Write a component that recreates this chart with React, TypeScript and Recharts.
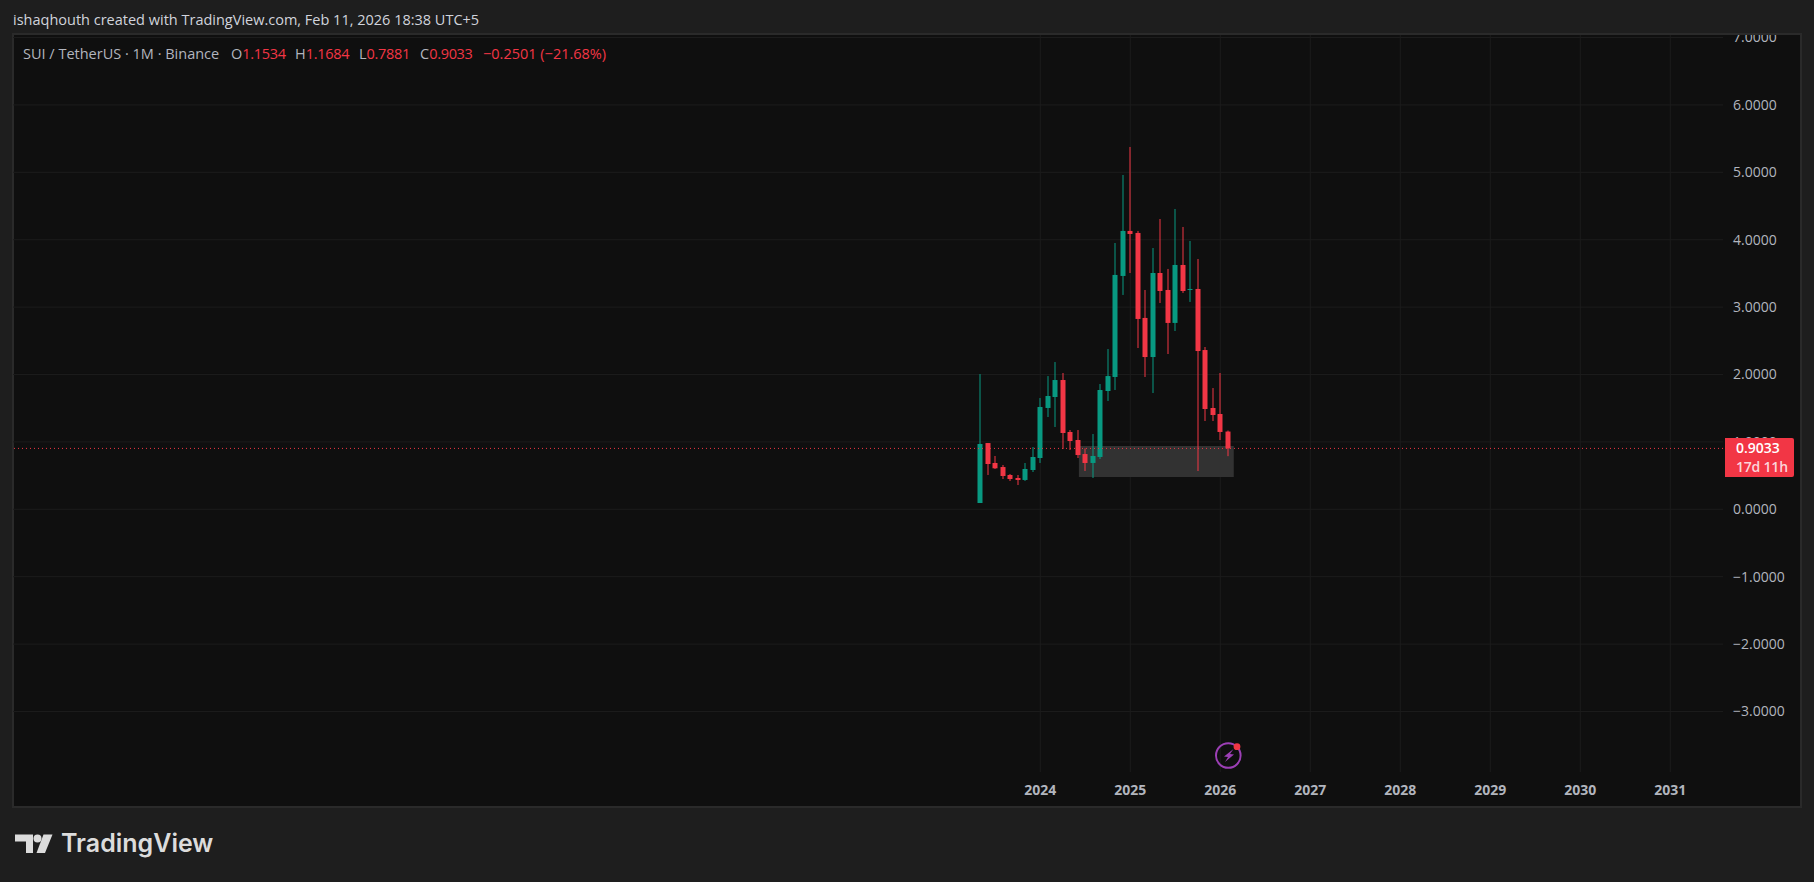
import React from "react";
import {
  ComposedChart,
  Bar,
  XAxis,
  YAxis,
  CartesianGrid,
  ReferenceLine,
  ReferenceArea,
} from "recharts";

// monthly candles, May 2023 .. Feb 2026
const months = [
  "2023-05", "2023-06", "2023-07", "2023-08", "2023-09", "2023-10", "2023-11", "2023-12",
  "2024-01", "2024-02", "2024-03", "2024-04", "2024-05", "2024-06", "2024-07", "2024-08", "2024-09", "2024-10", "2024-11", "2024-12",
  "2025-01", "2025-02", "2025-03", "2025-04", "2025-05", "2025-06", "2025-07", "2025-08", "2025-09", "2025-10", "2025-11", "2025-12",
  "2026-01", "2026-02",
];
const opens = [
  0.093, 0.983, 0.687, 0.627, 0.509, 0.464, 0.435, 0.583,
  0.761, 1.503, 1.666, 1.918, 1.147, 1.028, 0.82, 0.687, 0.776, 1.755, 1.963, 3.462,
  4.13, 4.1, 2.839, 2.259, 3.506, 3.254, 2.765, 3.625, 3.254, 3.269, 2.363, 1.503,
  1.414, 1.1534,
];
const highs = [
  2.007, 0.983, 0.791, 0.657, 0.524, 0.509, 0.687, 0.924,
  1.651, 1.977, 2.185, 2.022, 1.176, 1.176, 0.904, 1.117, 1.859, 2.378, 3.951, 4.96,
  5.376, 4.13, 3.254, 3.877, 4.307, 3.566, 4.456, 4.189, 3.981, 3.714, 2.408, 1.799,
  2.022, 1.1684,
];
const lows = [
  0.093, 0.509, 0.598, 0.449, 0.42, 0.36, 0.42, 0.553,
  0.687, 1.369, 1.221, 0.894, 0.88, 0.761, 0.568, 0.464, 0.746, 1.607, 1.77, 3.18,
  3.506, 2.393, 1.963, 1.725, 3.061, 2.304, 2.645, 3.21, 3.076, 0.568, 1.31, 1.31,
  1.028, 0.7881,
];
const closes = [
  0.969, 0.672, 0.608, 0.494, 0.449, 0.435, 0.598, 0.776,
  1.518, 1.681, 1.918, 1.132, 1.013, 0.805, 0.687, 0.791, 1.77, 1.977, 3.477, 4.13,
  4.085, 2.824, 2.259, 3.506, 3.239, 2.765, 3.625, 3.239, 3.269, 2.348, 1.488, 1.399,
  1.147, 0.9033,
];

const priceTicks = [-3, -2, -1, 0, 1, 2, 3, 4, 5, 6, 7];
const yearTicks = [8, 20, 32, 44, 56, 68, 80, 92];
const yearLabels = ["2024", "2025", "2026", "2027", "2028", "2029", "2030", "2031"];

const lastPrice = 0.9033;
const zone = { from: 13.15, to: 33.8, top: 0.94, bottom: 0.48 };

const UP = "#089981";
const DOWN = "#f23645";
const FONT = "'Open Sans', sans-serif";

const candles = months.map((m, i) => ({
  i,
  month: m,
  open: opens[i],
  high: highs[i],
  low: lows[i],
  close: closes[i],
}));

const Candle = (props: any) => {
  const { x, y, width, height, payload } = props;
  const pxPerUnit = height / (payload.high - payload.low);
  const color = payload.close >= payload.open ? UP : DOWN;
  const top = y + (payload.high - Math.max(payload.open, payload.close)) * pxPerUnit;
  const bottom = y + (payload.high - Math.min(payload.open, payload.close)) * pxPerUnit;
  const cx = Math.round(x + width / 2);
  return (
    <g>
      <rect x={cx - 0.5} y={y} width={1} height={height} fill={color} />
      <rect x={cx - 2.5} y={top} width={5} height={Math.max(bottom - top, 1)} fill={color} />
    </g>
  );
};

const fmtPrice = (v: number) => (v < 0 ? "\u2212" : "") + Math.abs(v).toFixed(4);
const fmtYear = (v: number) => yearLabels[yearTicks.indexOf(v)] ?? "";

const legendStyle: React.CSSProperties = {
  position: "absolute",
  top: 44,
  fontSize: 14.5,
  lineHeight: "20px",
  color: "#b2b5be",
  whiteSpace: "nowrap",
};

const LegendValue = ({ left, name, value }: { left: number; name: string; value: string }) => (
  <div style={{ ...legendStyle, left }}>
    {name}
    <span style={{ color: DOWN, letterSpacing: -0.3 }}>{value}</span>
  </div>
);

export default function App() {
  return (
    <div style={{ position: "absolute", left: 0, top: 0, width: 1814, height: 882, background: "#1e1e1e", overflow: "hidden", fontFamily: FONT }}>
      <div style={{ position: "absolute", left: 12, top: 33, width: 1790, height: 775, background: "#0f0f0f", border: "2px solid #2a2a2a", boxSizing: "border-box" }} />
      <div style={{ position: "absolute", left: 0, top: 0 }}>
        <ComposedChart
          width={1814}
          height={882}
          data={candles}
          margin={{ top: 34, right: 14, bottom: 77, left: 13 }}
          barSize={5}
        >
          <CartesianGrid stroke="#1c1c1c" syncWithTicks />
          <XAxis
            dataKey="i"
            type="number"
            domain={[-128.97, 99.03]}
            allowDataOverflow
            ticks={yearTicks}
            tickFormatter={fmtYear}
            axisLine={false}
            tickLine={false}
            height={33}
            tick={{ fill: "#b2b5be", fontSize: 14, fontWeight: 700, fontFamily: FONT, dy: 5 }}
          />
          <YAxis
            orientation="right"
            type="number"
            domain={[-3.898, 7.052]}
            allowDataOverflow
            ticks={priceTicks}
            tickFormatter={fmtPrice}
            axisLine={false}
            tickLine={false}
            width={77}
            interval={0}
            tick={{ fill: "#b2b5be", fontSize: 14, fontFamily: FONT, dx: 2 }}
          />
          <ReferenceArea x1={zone.from} x2={zone.to} y1={zone.bottom} y2={zone.top} fill="#323232" fillOpacity={1} stroke="none" />
          <Bar dataKey={(d: any) => [d.low, d.high]} shape={<Candle />} isAnimationActive={false} />
          <ReferenceLine y={lastPrice} stroke={DOWN} strokeDasharray="1 3" />
        </ComposedChart>
      </div>

      {/* header strip sits over the chart, it clips the top of the 7.0000 label */}
      <div style={{ position: "absolute", left: 0, top: 0, width: 1814, height: 33, background: "#1e1e1e" }} />
      <div style={{ position: "absolute", left: 12, top: 33, width: 1790, height: 2, background: "#2a2a2a" }} />
      <div style={{ position: "absolute", left: 13, top: 10, fontSize: 14.5, lineHeight: "20px", color: "#d1d4dc", whiteSpace: "nowrap" }}>
        ishaqhouth created with TradingView.com, Feb 11, 2026 18:38 UTC+5
      </div>

      <div style={{ ...legendStyle, left: 23 }}>SUI / TetherUS · 1M · Binance</div>
      <LegendValue left={231} name="O" value="1.1534" />
      <LegendValue left={295} name="H" value="1.1684" />
      <LegendValue left={359} name="L" value="0.7881" />
      <LegendValue left={420} name="C" value="0.9033" />
      <div style={{ ...legendStyle, left: 483, color: DOWN }}>−0.2501 (−21.68%)</div>

      <div style={{ position: "absolute", left: 1725, top: 438, width: 69, height: 39, paddingLeft: 11, boxSizing: "border-box", background: DOWN, borderRadius: "0 2px 2px 0", color: "#fff", fontSize: 14, fontWeight: 600, lineHeight: "19px", whiteSpace: "nowrap" }}>
        <div>0.9033</div>
        <div style={{ color: "#fbd5da", letterSpacing: -0.2 }}>17d 11h</div>
      </div>

      <svg style={{ position: "absolute", left: 0, top: 0 }} width={1814} height={882}>
        <circle cx={1228.3} cy={755.5} r={12.3} fill="none" stroke="#9c3fb5" strokeWidth={2} />
        <path d="M1233.5 749 L1224 756.5 L1228 757 L1225 762 L1234 754.5 L1230 754 Z" fill="#9c3fb5" />
        <circle cx={1237} cy={746.7} r={3.4} fill={DOWN} />
        <path d="M15 834.5 H33 V853 H26 V841.5 H15 Z" fill="#dcdcdc" />
        <circle cx={37.5} cy={838.5} r={4} fill="#dcdcdc" />
        <path d="M43.5 834.5 H52.5 L45 853 H36.5 Z" fill="#dcdcdc" />
      </svg>
      <div style={{ position: "absolute", left: 61, top: 828, fontSize: 25, fontWeight: 600, fontFamily: "Inter, sans-serif", color: "#dcdcdc", whiteSpace: "nowrap" }}>
        TradingView
      </div>
    </div>
  );
}
